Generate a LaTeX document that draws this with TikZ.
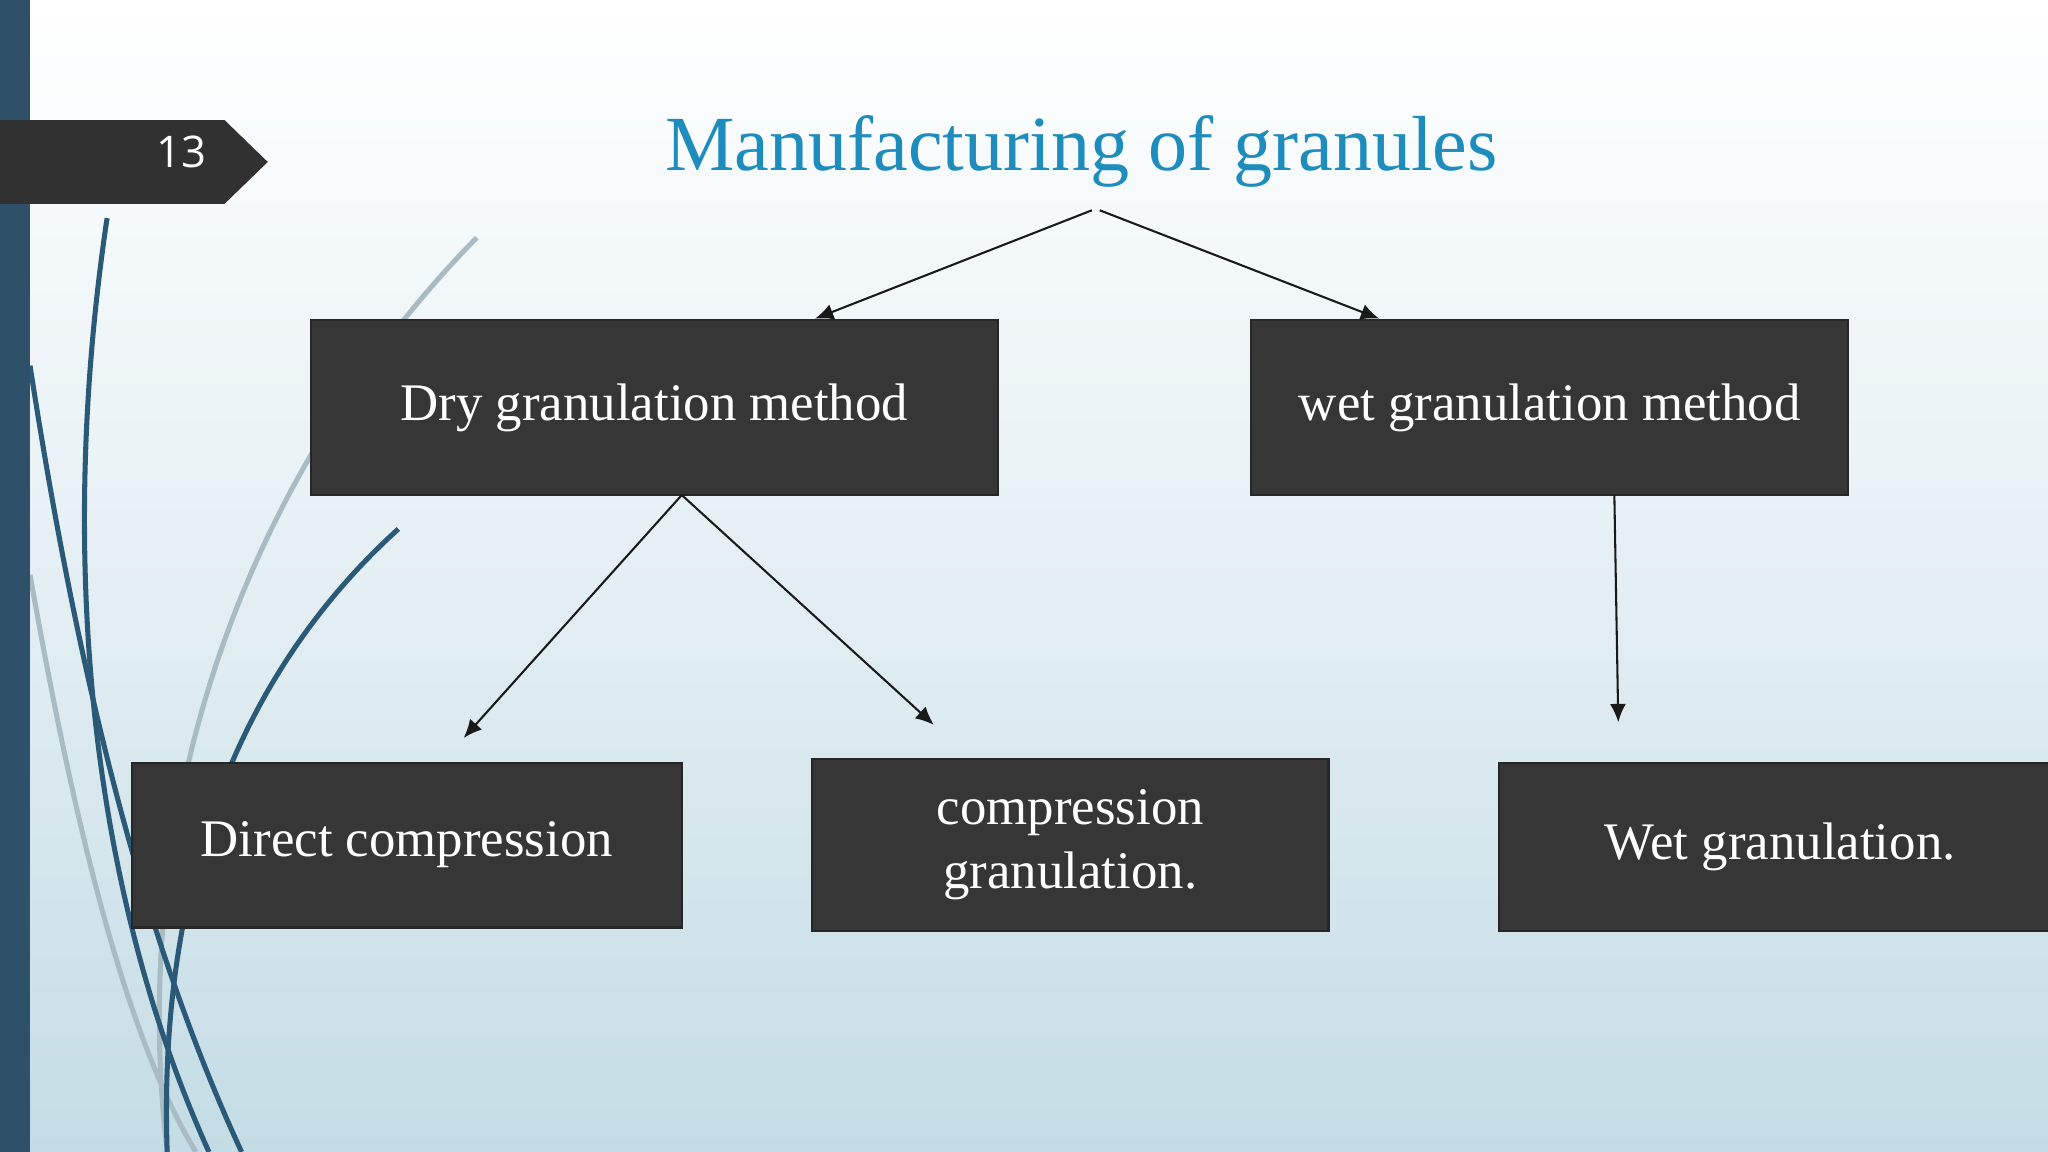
\documentclass[tikz,border=0pt]{standalone}
\usepackage{fontspec}
\setmainfont{Liberation Serif}
\newfontfamily\numfont{Open Sans}
\usetikzlibrary{arrows.meta}
\definecolor{bgtop}{HTML}{FFFFFF}
\definecolor{bgbot}{HTML}{C4DCE5}
\definecolor{barc}{HTML}{2E5068}
\definecolor{boxc}{HTML}{363636}
\definecolor{titlec}{HTML}{1E8DBE}
\definecolor{curvec}{HTML}{2B5A78}
\definecolor{curveg}{HTML}{A9BCC4}
\tikzset{
  box/.style={draw=black!85, fill=boxc, text=white, line width=0.5pt, inner sep=0pt, font=\fontsize{11.5}{14}\selectfont, align=center},
  conn/.style={draw=black!90, line width=0.45pt, -{Latex[length=4pt,width=3.5pt]}},
  deco/.style={line width=1.1pt, draw=curvec},
  decog/.style={line width=1.1pt, draw=curveg}
}
\begin{document}
\begin{tikzpicture}[x=0.01cm,y=-0.01cm]
\useasboundingbox (0,0) rectangle (1568,882);
\shade[top color=bgtop, bottom color=bgbot, middle color=bgtop!55!bgbot] (0,0) rectangle (1568,882);
% decorative curves
\draw[decog] (365,182) .. controls (200,350) and (95,600) .. (128,882);
\draw[decog] (23,440) .. controls (60,650) and (100,800) .. (150,882);
\draw[deco] (82,167) .. controls (50,380) and (55,650) .. (160,882);
\draw[deco] (23,280) .. controls (60,520) and (110,720) .. (185,882);
\draw[deco] (305,405) .. controls (200,500) and (120,650) .. (128,882);
\fill[barc] (0,0) rectangle (23,882);
% page tab
\fill[boxc!90!black] (0,92) -- (172,92) -- (205,124) -- (172,156) -- (0,156) -- cycle;
\node[text=white, font=\numfont\fontsize{9.5}{11}\selectfont] (num) at (139,116) {13};
\node[text=titlec, font=\fontsize{17}{20}\selectfont] (title) at (828,116) {Manufacturing of granules};
% boxes
\node[box, minimum width=5.26cm, minimum height=1.34cm] (dry) at (501,312) {Dry granulation method};
\node[box, minimum width=4.57cm, minimum height=1.34cm] (wet) at (1186.5,312) {wet granulation method};
\node[box, minimum width=4.21cm, minimum height=1.26cm] (dc) at (311.5,647) {Direct compression};
\node[box, minimum width=3.95cm, minimum height=1.32cm] (cg) at (819.5,647) {compression\\granulation.};
\node[box, minimum width=4.30cm, minimum height=1.29cm, anchor=west] (wg) at (1147,648.5) {Wet granulation.};
% connectors
\coordinate (t1) at (836,161);
\coordinate (t2) at (842,161);
\coordinate (e1) at (355,565);
\coordinate (e2) at (715,555);
\coordinate (e3) at (1239,553);
\draw[conn] (t1) -- (624,244);
\draw[conn] (t2) -- (1056,244);
\draw[conn] (522,379) -- (e1);
\draw[conn] (522,379) -- (e2);
\draw[conn] (1236,379) -- (e3);
\end{tikzpicture}
\end{document}
